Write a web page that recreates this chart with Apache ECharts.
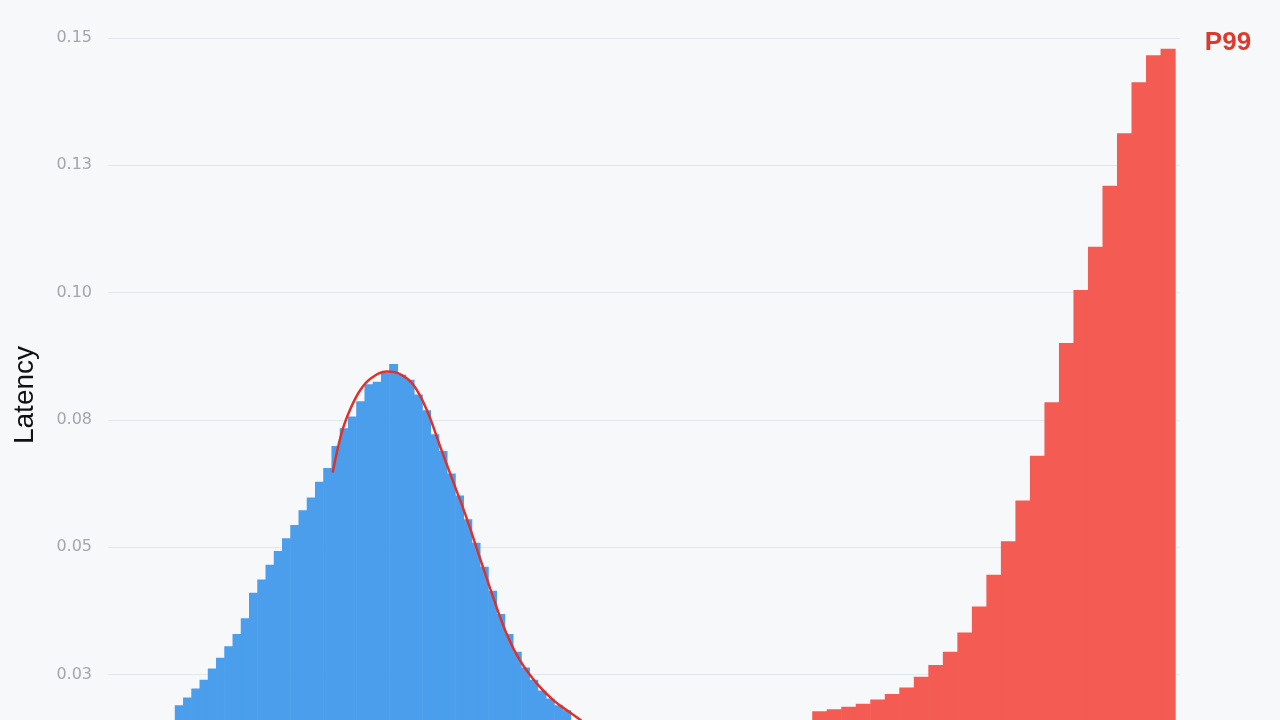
<!DOCTYPE html>
<html>
<head>
<meta charset="utf-8">
<script src="https://cdn.jsdelivr.net/npm/echarts@6/dist/echarts.min.js"></script>
<style>
html,body{margin:0;padding:0;background:#f7f8fa;overflow:hidden;height:720px;}
#chart{width:1280px;height:810px;}
</style>
</head>
<body>
<div id="chart"></div>
<script>
// ---- data ----
const yTickValues = [0, 0.025, 0.05, 0.075, 0.1, 0.125, 0.15];
const yTickLabels = ["0.00", "0.03", "0.05", "0.08", "0.10", "0.13", "0.15"];

// main latency mode (blue), uniform buckets
const blueStart = 8.1;
const blueWidth = 1;
const blueValues = [
  0.0190, 0.0205, 0.0223, 0.0240, 0.0262, 0.0283, 0.0306, 0.0330,
  0.0361, 0.0411, 0.0437, 0.0466, 0.0493, 0.0518, 0.0544, 0.0573,
  0.0598, 0.0629, 0.0656, 0.0699, 0.0734, 0.0757, 0.0787, 0.0820,
  0.0825, 0.0843, 0.0860, 0.0839, 0.0829, 0.0800, 0.0769, 0.0722,
  0.0689, 0.0645, 0.0602, 0.0555, 0.0509, 0.0462, 0.0415, 0.0369,
  0.0330, 0.0295, 0.0264, 0.0240, 0.0219, 0.0203, 0.0190, 0.0180
];

// tail (red, P99) buckets
const redStart = 85.4;
const redWidth = 1.76;
const redValues = [
  0.0178, 0.0182, 0.0187, 0.0193, 0.0201, 0.0212, 0.0225, 0.0246,
  0.0269, 0.0295, 0.0333, 0.0384, 0.0446, 0.0512, 0.0592, 0.0680,
  0.0785, 0.0901, 0.1005, 0.1090, 0.1210, 0.1313, 0.1413, 0.1466,
  0.1479
];

// fitted density curve
const curveX = [27.25, 28.34, 29.40, 30.60, 31.90, 33.80, 35.41, 37.02, 38.65, 40.26,
                41.88, 43.50, 45.11, 46.73, 48.35, 49.96, 51.99, 54.00, 55.82, 57.40];
const curveY = [0.0647, 0.0725, 0.0772, 0.0809, 0.0832, 0.0845, 0.0840, 0.0819, 0.0770, 0.0699,
                0.0628, 0.0557, 0.0479, 0.0401, 0.0330, 0.0278, 0.0233, 0.0200, 0.0178, 0.0160];

const axisName = "Latency";
const tailLabel = "P99";

// ---- build ----
function buckets(start, width, values) {
  return values.map((v, i) => [start + i * width, start + (i + 1) * width, v]);
}
function renderBar(params, api) {
  const p0 = api.coord([api.value(0), api.value(2)]);
  const p1 = api.coord([api.value(1), 0]);
  return {
    type: 'rect',
    shape: { x: p0[0], y: p0[1], width: p1[0] - p0[0] + 0.6, height: p1[1] - p0[1] },
    style: { fill: api.visual('color') }
  };
}

const chart = echarts.init(document.getElementById('chart'));
chart.setOption({
  backgroundColor: '#f7f8fa',
  animation: false,
  grid: { left: 108, right: 100, top: 38, bottom: 0 },
  xAxis: {
    type: 'value', min: 0, max: 130,
    show: false
  },
  yAxis: {
    type: 'value', min: 0, max: 0.15, interval: 0.025,
    axisLine: { show: false },
    axisTick: { show: false },
    axisLabel: {
      color: '#a3a6ad', fontSize: 16, margin: 16, fontFamily: 'DejaVu Sans',
      formatter: function (v) {
        let best = 0;
        yTickValues.forEach((t, i) => { if (Math.abs(t - v) < Math.abs(yTickValues[best] - v)) best = i; });
        return yTickLabels[best];
      }
    },
    splitLine: { lineStyle: { color: '#e3e6ea', width: 1 } }
  },
  series: [
    {
      type: 'custom', name: 'main', renderItem: renderBar,
      itemStyle: { color: '#4a9eec' },
      encode: { x: [0, 1], y: 2 },
      data: buckets(blueStart, blueWidth, blueValues)
    },
    {
      type: 'custom', name: 'tail', renderItem: renderBar,
      itemStyle: { color: '#f35b53' },
      encode: { x: [0, 1], y: 2 },
      data: buckets(redStart, redWidth, redValues)
    },
    {
      type: 'line', name: 'fit', smooth: 0.4, showSymbol: false,
      lineStyle: { color: '#e0302a', width: 2.5 },
      data: curveX.map((x, i) => [x, curveY[i]]),
      z: 5
    }
  ],
  graphic: [
    {
      type: 'text', x: 25, y: 395, rotation: Math.PI / 2,
      style: {
        text: axisName, fill: '#111111', font: '28px "Liberation Sans", Arial, sans-serif',
        textAlign: 'center', textVerticalAlign: 'middle'
      }
    },
    {
      type: 'text', x: 1228, y: 43,
      style: {
        text: tailLabel, fill: '#dd3a2e', font: 'bold 26px "Liberation Sans", Arial, sans-serif',
        textAlign: 'center', textVerticalAlign: 'middle'
      }
    }
  ]
});
</script>
</body>
</html>
